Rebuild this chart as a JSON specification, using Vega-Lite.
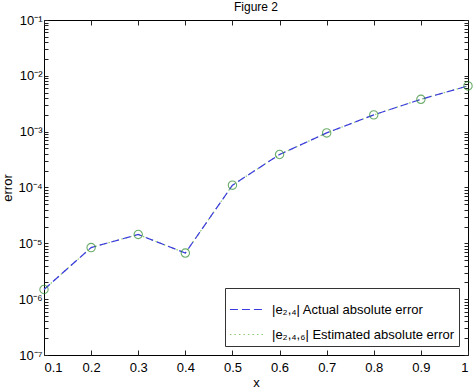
{
  "$schema": "https://vega.github.io/schema/vega-lite/v6.json",
  "width": 424,
  "height": 335,
  "autosize": "none",
  "padding": {"left": 44, "top": 20, "right": 6, "bottom": 32},
  "title": {"text": "Figure 2", "fontSize": 12, "fontWeight": "normal", "font": "Liberation Sans", "color": "black", "offset": 0},
  "config": {
    "view": {"stroke": "black", "strokeWidth": 1},
    "font": "Liberation Sans",
    "axis": {"grid": false, "domain": false, "tickColor": "#222", "labelColor": "black", "labelFontSize": 13, "labelFont": "Liberation Sans", "titleFont": "Liberation Sans", "titleFontSize": 13, "titleFontWeight": "normal", "titleColor": "black"}
  },
  "data": {
    "values": [
      {"x": 0.1, "error": 1.49e-6, "series": "|e₂,₄| Actual absolute error"},
      {"x": 0.2, "error": 8.4e-6, "series": "|e₂,₄| Actual absolute error"},
      {"x": 0.3, "error": 1.44e-5, "series": "|e₂,₄| Actual absolute error"},
      {"x": 0.4, "error": 6.7e-6, "series": "|e₂,₄| Actual absolute error"},
      {"x": 0.5, "error": 1.1e-4, "series": "|e₂,₄| Actual absolute error"},
      {"x": 0.6, "error": 3.9e-4, "series": "|e₂,₄| Actual absolute error"},
      {"x": 0.7, "error": 9.5e-4, "series": "|e₂,₄| Actual absolute error"},
      {"x": 0.8, "error": 2.0e-3, "series": "|e₂,₄| Actual absolute error"},
      {"x": 0.9, "error": 3.8e-3, "series": "|e₂,₄| Actual absolute error"},
      {"x": 1.0, "error": 6.6e-3, "series": "|e₂,₄| Actual absolute error"},
      {"x": 0.1, "error": 1.49e-6, "series": "|e₂,₄,₆| Estimated absolute error"},
      {"x": 0.2, "error": 8.4e-6, "series": "|e₂,₄,₆| Estimated absolute error"},
      {"x": 0.3, "error": 1.44e-5, "series": "|e₂,₄,₆| Estimated absolute error"},
      {"x": 0.4, "error": 6.7e-6, "series": "|e₂,₄,₆| Estimated absolute error"},
      {"x": 0.5, "error": 1.1e-4, "series": "|e₂,₄,₆| Estimated absolute error"},
      {"x": 0.6, "error": 3.9e-4, "series": "|e₂,₄,₆| Estimated absolute error"},
      {"x": 0.7, "error": 9.5e-4, "series": "|e₂,₄,₆| Estimated absolute error"},
      {"x": 0.8, "error": 2.0e-3, "series": "|e₂,₄,₆| Estimated absolute error"},
      {"x": 0.9, "error": 3.8e-3, "series": "|e₂,₄,₆| Estimated absolute error"},
      {"x": 1.0, "error": 6.6e-3, "series": "|e₂,₄,₆| Estimated absolute error"}
    ]
  },
  "resolve": {"axis": {"x": "independent", "y": "independent"}},
  "layer": [
    {
      "transform": [{"filter": "indexof(datum.series, 'Estimated') >= 0"}],
      "mark": {"type": "line", "strokeWidth": 1.2},
      "encoding": {
        "x": {"field": "x", "type": "quantitative", "scale": {"domain": [0.1, 1], "nice": false, "zero": false},
          "axis": {"orient": "bottom", "title": "x", "values": [0.1, 0.2, 0.3, 0.4, 0.5, 0.6, 0.7, 0.8, 0.9, 1.0],
            "labelExpr": "datum.value == 1 ? '1' : format(datum.value, '.1f')", "tickSize": -5, "labelPadding": 11, "titlePadding": 2}},
        "y": {"field": "error", "type": "quantitative", "scale": {"type": "log", "domain": [1e-7, 0.1], "nice": false},
          "axis": {"orient": "left", "title": "error", "titlePadding": 3,
            "values": [1e-7,2e-7,3e-7,4e-7,5e-7,6e-7,7e-7,8e-7,9e-7,1e-6,2e-6,3e-6,4e-6,5e-6,6e-6,7e-6,8e-6,9e-6,1e-5,2e-5,3e-5,4e-5,5e-5,6e-5,7e-5,8e-5,9e-5,1e-4,2e-4,3e-4,4e-4,5e-4,6e-4,7e-4,8e-4,9e-4,1e-3,2e-3,3e-3,4e-3,5e-3,6e-3,7e-3,8e-3,9e-3,1e-2,2e-2,3e-2,4e-2,5e-2,6e-2,7e-2,8e-2,9e-2,1e-1],
            "labelExpr": "abs(log(datum.value)/LN10 - round(log(datum.value)/LN10)) < 0.001 ? '10' + ['⁰','⁻¹','⁻²','⁻³','⁻⁴','⁻⁵','⁻⁶','⁻⁷'][-round(log(datum.value)/LN10)] : ''",
            "tickSize": -4,
            "labelPadding": 6}},
        "color": {"field": "series", "type": "nominal",
          "scale": {"domain": ["|e₂,₄| Actual absolute error", "|e₂,₄,₆| Estimated absolute error"], "range": ["#3a3ae0", "#8cc870"]},
          "legend": {"title": null, "orient": "bottom-right", "offset": 9, "fillColor": "white", "strokeColor": "#333", "padding": 4,
            "labelFontSize": 13, "labelFont": "Liberation Sans", "labelColor": "black", "labelLimit": 400, "symbolSize": 1100, "rowPadding": 0, "labelOffset": 8,
            "symbolType": "stroke", "symbolStrokeWidth": 1.2}},
        "strokeDash": {"field": "series", "type": "nominal",
          "scale": {"domain": ["|e₂,₄| Actual absolute error", "|e₂,₄,₆| Estimated absolute error"], "range": [[8, 4], [1.5, 3]]}}
      }
    },
    {
      "transform": [{"filter": "indexof(datum.series, 'Actual') >= 0"}],
      "mark": {"type": "line", "strokeWidth": 1.2},
      "encoding": {
        "x": {"field": "x", "type": "quantitative", "axis": null},
        "y": {"field": "error", "type": "quantitative", "scale": {"type": "log"}, "axis": null},
        "color": {"field": "series", "type": "nominal"},
        "strokeDash": {"field": "series", "type": "nominal"}
      }
    },
    {
      "transform": [{"filter": "indexof(datum.series, 'Estimated') >= 0"}],
      "mark": {"type": "point", "shape": "circle", "filled": false, "size": 70, "strokeWidth": 1.1, "color": "#2e8b2e"},
      "encoding": {
        "x": {"field": "x", "type": "quantitative",
          "axis": {"orient": "top", "title": null, "labels": false, "values": [0.1, 0.2, 0.3, 0.4, 0.5, 0.6, 0.7, 0.8, 0.9, 1.0], "tickSize": -5}},
        "y": {"field": "error", "type": "quantitative", "scale": {"type": "log"},
          "axis": {"orient": "right", "title": null, "labels": false,
            "values": [1e-7,2e-7,3e-7,4e-7,5e-7,6e-7,7e-7,8e-7,9e-7,1e-6,2e-6,3e-6,4e-6,5e-6,6e-6,7e-6,8e-6,9e-6,1e-5,2e-5,3e-5,4e-5,5e-5,6e-5,7e-5,8e-5,9e-5,1e-4,2e-4,3e-4,4e-4,5e-4,6e-4,7e-4,8e-4,9e-4,1e-3,2e-3,3e-3,4e-3,5e-3,6e-3,7e-3,8e-3,9e-3,1e-2,2e-2,3e-2,4e-2,5e-2,6e-2,7e-2,8e-2,9e-2,1e-1],
            "tickSize": -4}}
      }
    }
  ]
}
